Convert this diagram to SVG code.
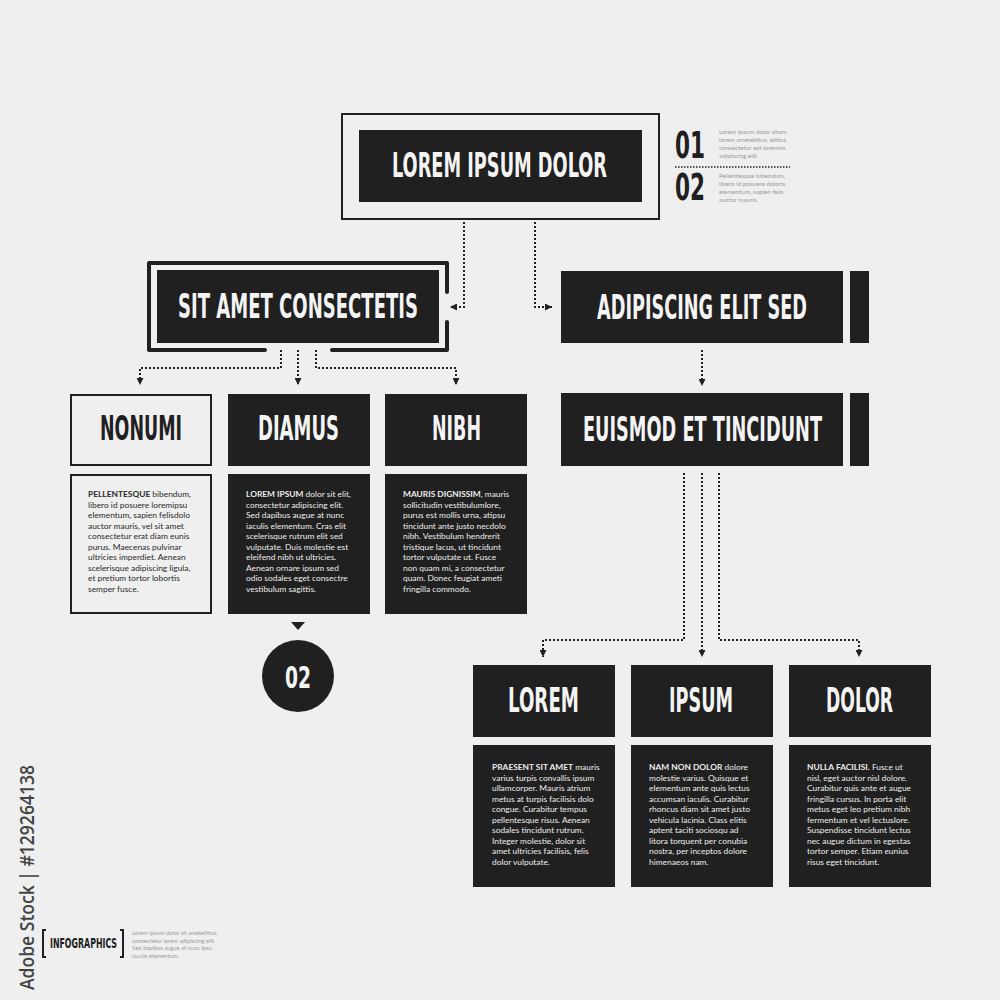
<svg xmlns="http://www.w3.org/2000/svg" width="1000" height="1000" viewBox="0 0 1000 1000">
<defs>
<style>
.bg{fill:#efefef}
.dk{fill:#202020}
.ol{fill:none;stroke:#202020;stroke-width:2}
.h{font-family:'DejaVu Sans Condensed','DejaVu Sans',sans-serif;font-weight:bold;font-stretch:condensed;font-size:33px;fill:#f4f4f4}
.hd{fill:#202020}
.b{font-family:Lato,'Noto Sans',sans-serif;font-size:8.4px;fill:#ececec}
.bd{fill:#2a2a2a}
.b tspan.s{font-weight:bold}
.sm{font-family:Lato,'Noto Sans',sans-serif;font-size:6.3px;fill:#9a9a9a}
.dot{fill:none;stroke:#202020;stroke-width:2;stroke-dasharray:2 2}
</style>
<marker id="ah" viewBox="0 0 8 8" refX="8" refY="4" markerWidth="7" markerHeight="7" markerUnits="userSpaceOnUse" orient="auto">
<path d="M0,0 L8,4 L0,8 z" fill="#202020"/>
</marker>
</defs>
<rect class="bg" x="0" y="0" width="1000" height="1000"/>

<g id="connectors">
<path class="dot" d="M464,222 V307 H450" marker-end="url(#ah)"/>
<path class="dot" d="M535,222 V307 H552" marker-end="url(#ah)"/>
<path class="dot" d="M281,350 V368 H140 V385" marker-end="url(#ah)"/>
<path class="dot" d="M298,350 V385" marker-end="url(#ah)"/>
<path class="dot" d="M316,350 V368 H456 V385" marker-end="url(#ah)"/>
<path class="dot" d="M702,350 V386" marker-end="url(#ah)"/>
<path class="dot" d="M684,473 V640 H543 V657" marker-end="url(#ah)"/>
<path class="dot" d="M702,473 V657" marker-end="url(#ah)"/>
<path class="dot" d="M719,473 V640 H859 V657" marker-end="url(#ah)"/>
<polygon class="dk" points="291,622 305,622 298,630"/>
</g>

<g id="node-top">
<rect class="ol" x="342" y="114" width="317" height="105"/>
<rect class="dk" x="359" y="130" width="283" height="72"/>
<text class="h" x="392" y="177" textLength="215" lengthAdjust="spacingAndGlyphs">LOREM IPSUM DOLOR</text>
</g>

<g id="legend">
<text class="h hd" x="675" y="158" textLength="30" lengthAdjust="spacingAndGlyphs" style="font-size:37px">01</text>
<text class="h hd" x="675" y="200" textLength="30" lengthAdjust="spacingAndGlyphs" style="font-size:37px">02</text>
<line x1="675" y1="167" x2="790" y2="167" stroke="#202020" stroke-width="1.3" stroke-dasharray="1.5 1.5"/>
<text class="sm"><tspan x="719" y="134">Lorem ipsum dolor sitam</tspan><tspan x="719" y="142">lorem ametelitius, elitius</tspan><tspan x="719" y="150">consectetur est loremris</tspan><tspan x="719" y="158">adipiscing elit.</tspan></text>
<text class="sm"><tspan x="719" y="178">Pellentesque bibendum,</tspan><tspan x="719" y="186">libero id posuere doloris</tspan><tspan x="719" y="194">elementum, sapien felis</tspan><tspan x="719" y="202">auctor mauris.</tspan></text>
</g>

<g id="node-sit-amet">
<path d="M447,292 V263 H149 V350 H265 M332,350 H447 V322" fill="none" stroke="#202020" stroke-width="4" stroke-linecap="round" stroke-linejoin="round"/>
<rect class="dk" x="157" y="270" width="282" height="73"/>
<text class="h" x="178" y="318" textLength="240" lengthAdjust="spacingAndGlyphs">SIT AMET CONSECTETIS</text>
</g>

<g id="node-adipiscing">
<rect class="dk" x="561" y="271" width="282" height="72"/>
<rect class="dk" x="850" y="271" width="19" height="72"/>
<text class="h" x="597" y="319" textLength="210" lengthAdjust="spacingAndGlyphs">ADIPISCING ELIT SED</text>
</g>

<g id="node-euismod">
<rect class="dk" x="561" y="393" width="282" height="73"/>
<rect class="dk" x="850" y="393" width="19" height="73"/>
<text class="h" x="583" y="441" textLength="239" lengthAdjust="spacingAndGlyphs">EUISMOD ET TINCIDUNT</text>
</g>

<g id="node-nonumi">
<rect class="ol" x="71" y="395" width="140" height="70"/>
<text class="h hd" x="100" y="440" textLength="82" lengthAdjust="spacingAndGlyphs">NONUMI</text>
<rect class="ol" x="71" y="475" width="140" height="138"/>
<text class="b bd"><tspan x="88" y="497" class="s">PELLENTESQUE</tspan><tspan> bibendum,</tspan><tspan x="88" y="507.5">libero id posuere loremipsu</tspan><tspan x="88" y="518">elementum, sapien felisdolo</tspan><tspan x="88" y="528.5">auctor mauris, vel sit amet</tspan><tspan x="88" y="539">consectetur erat diam eunis</tspan><tspan x="88" y="549.5">purus. Maecenas pulvinar</tspan><tspan x="88" y="560">ultricies imperdiet. Aenean</tspan><tspan x="88" y="570.5">scelerisque adipiscing ligula,</tspan><tspan x="88" y="581">et pretium tortor lobortis</tspan><tspan x="88" y="591.5">semper fusce.</tspan></text>
</g>

<g id="node-diamus">
<rect class="dk" x="228" y="394" width="142" height="72"/>
<text class="h" x="258" y="440" textLength="81" lengthAdjust="spacingAndGlyphs">DIAMUS</text>
<rect class="dk" x="228" y="474" width="142" height="140"/>
<text class="b"><tspan x="246" y="497" class="s">LOREM IPSUM</tspan><tspan> dolor sit elit,</tspan><tspan x="246" y="507.5">consectetur adipiscing elit.</tspan><tspan x="246" y="518">Sed dapibus augue at nunc</tspan><tspan x="246" y="528.5">iaculis elementum. Cras elit</tspan><tspan x="246" y="539">scelerisque rutrum elit sed</tspan><tspan x="246" y="549.5">vulputate. Duis molestie est</tspan><tspan x="246" y="560">eleifend nibh ut ultricies.</tspan><tspan x="246" y="570.5">Aenean ornare ipsum sed</tspan><tspan x="246" y="581">odio sodales eget consectre</tspan><tspan x="246" y="591.5">vestibulum sagittis.</tspan></text>
</g>

<g id="node-02">
<circle class="dk" cx="298" cy="676" r="36"/>
<text class="h" x="285" y="688" textLength="26" lengthAdjust="spacingAndGlyphs" style="font-size:31px">02</text>
</g>

<g id="node-nibh">
<rect class="dk" x="385" y="394" width="142" height="72"/>
<text class="h" x="432" y="440" textLength="49" lengthAdjust="spacingAndGlyphs">NIBH</text>
<rect class="dk" x="385" y="474" width="142" height="140"/>
<text class="b"><tspan x="403" y="497" class="s">MAURIS DIGNISSIM</tspan><tspan>, mauris</tspan><tspan x="403" y="507.5">sollicitudin vestibulumlore,</tspan><tspan x="403" y="518">purus est mollis urna, atipsu</tspan><tspan x="403" y="528.5">tincidunt ante justo necdolo</tspan><tspan x="403" y="539">nibh. Vestibulum hendrerit</tspan><tspan x="403" y="549.5">tristique lacus, ut tincidunt</tspan><tspan x="403" y="560">tortor vulputate ut. Fusce</tspan><tspan x="403" y="570.5">non quam mi, a consectetur</tspan><tspan x="403" y="581">quam. Donec feugiat ameti</tspan><tspan x="403" y="591.5">fringilla commodo.</tspan></text>
</g>

<g id="node-lorem">
<rect class="dk" x="473" y="665" width="142" height="72"/>
<text class="h" x="508" y="712" textLength="71" lengthAdjust="spacingAndGlyphs">LOREM</text>
<rect class="dk" x="473" y="745" width="142" height="142"/>
<text class="b"><tspan x="492" y="770" class="s">PRAESENT SIT AMET</tspan><tspan> mauris</tspan><tspan x="492" y="780.5">varius turpis convallis ipsum</tspan><tspan x="492" y="791">ullamcorper. Mauris atrium</tspan><tspan x="492" y="801.5">metus at turpis facilisis dolo</tspan><tspan x="492" y="812">congue. Curabitur tempus</tspan><tspan x="492" y="822.5">pellentesque risus. Aenean</tspan><tspan x="492" y="833">sodales tincidunt rutrum.</tspan><tspan x="492" y="843.5">Integer molestie, dolor sit</tspan><tspan x="492" y="854">amet ultricies facilisis, felis</tspan><tspan x="492" y="864.5">dolor vulputate.</tspan></text>
</g>

<g id="node-ipsum">
<rect class="dk" x="631" y="665" width="142" height="72"/>
<text class="h" x="669" y="712" textLength="64" lengthAdjust="spacingAndGlyphs">IPSUM</text>
<rect class="dk" x="631" y="745" width="142" height="142"/>
<text class="b"><tspan x="649" y="770" class="s">NAM NON DOLOR</tspan><tspan> dolore</tspan><tspan x="649" y="780.5">molestie varius. Quisque et</tspan><tspan x="649" y="791">elementum ante quis lectus</tspan><tspan x="649" y="801.5">accumsan iaculis. Curabitur</tspan><tspan x="649" y="812">rhoncus diam sit amet justo</tspan><tspan x="649" y="822.5">vehicula lacinia. Class elitis</tspan><tspan x="649" y="833">aptent taciti sociosqu ad</tspan><tspan x="649" y="843.5">litora torquent per conubia</tspan><tspan x="649" y="854">nostra, per inceptos dolore</tspan><tspan x="649" y="864.5">himenaeos nam.</tspan></text>
</g>

<g id="node-dolor">
<rect class="dk" x="789" y="665" width="142" height="72"/>
<text class="h" x="826" y="712" textLength="67" lengthAdjust="spacingAndGlyphs">DOLOR</text>
<rect class="dk" x="789" y="745" width="142" height="142"/>
<text class="b"><tspan x="807" y="770" class="s">NULLA FACILISI.</tspan><tspan> Fusce ut</tspan><tspan x="807" y="780.5">nisl, eget auctor nisl dolore.</tspan><tspan x="807" y="791">Curabitur quis ante et augue</tspan><tspan x="807" y="801.5">fringilla cursus. In porta elit</tspan><tspan x="807" y="812">metus eget leo pretium nibh</tspan><tspan x="807" y="822.5">fermentum et vel lectuslore.</tspan><tspan x="807" y="833">Suspendisse tincidunt lectus</tspan><tspan x="807" y="843.5">nec augue dictum in egestas</tspan><tspan x="807" y="854">tortor semper. Etiam eunius</tspan><tspan x="807" y="864.5">risus eget tincidunt.</tspan></text>
</g>

<g id="footer">
<path d="M46,930 H43 V957 H46 M120,930 H123 V957 H120" fill="none" stroke="#202020" stroke-width="2"/>
<text class="h hd" x="50" y="948" textLength="67" lengthAdjust="spacingAndGlyphs" style="font-size:14px">INFOGRAPHICS</text>
<text class="sm" style="font-size:5.8px"><tspan x="132" y="935">Lorem ipsum dolor sit ametelitius,</tspan><tspan x="132" y="942.5">consectetur lorem adipiscing elit.</tspan><tspan x="132" y="950">Sed dapibus augue at nunc ipsu</tspan><tspan x="132" y="957.5">iaculis elementum.</tspan></text>
<text transform="translate(34,990) rotate(-90)" font-family="'Open Sans','Noto Sans',sans-serif" font-weight="600" font-size="20" fill="#444" textLength="225" lengthAdjust="spacingAndGlyphs">Adobe Stock | #129264138</text>
</g>
</svg>
